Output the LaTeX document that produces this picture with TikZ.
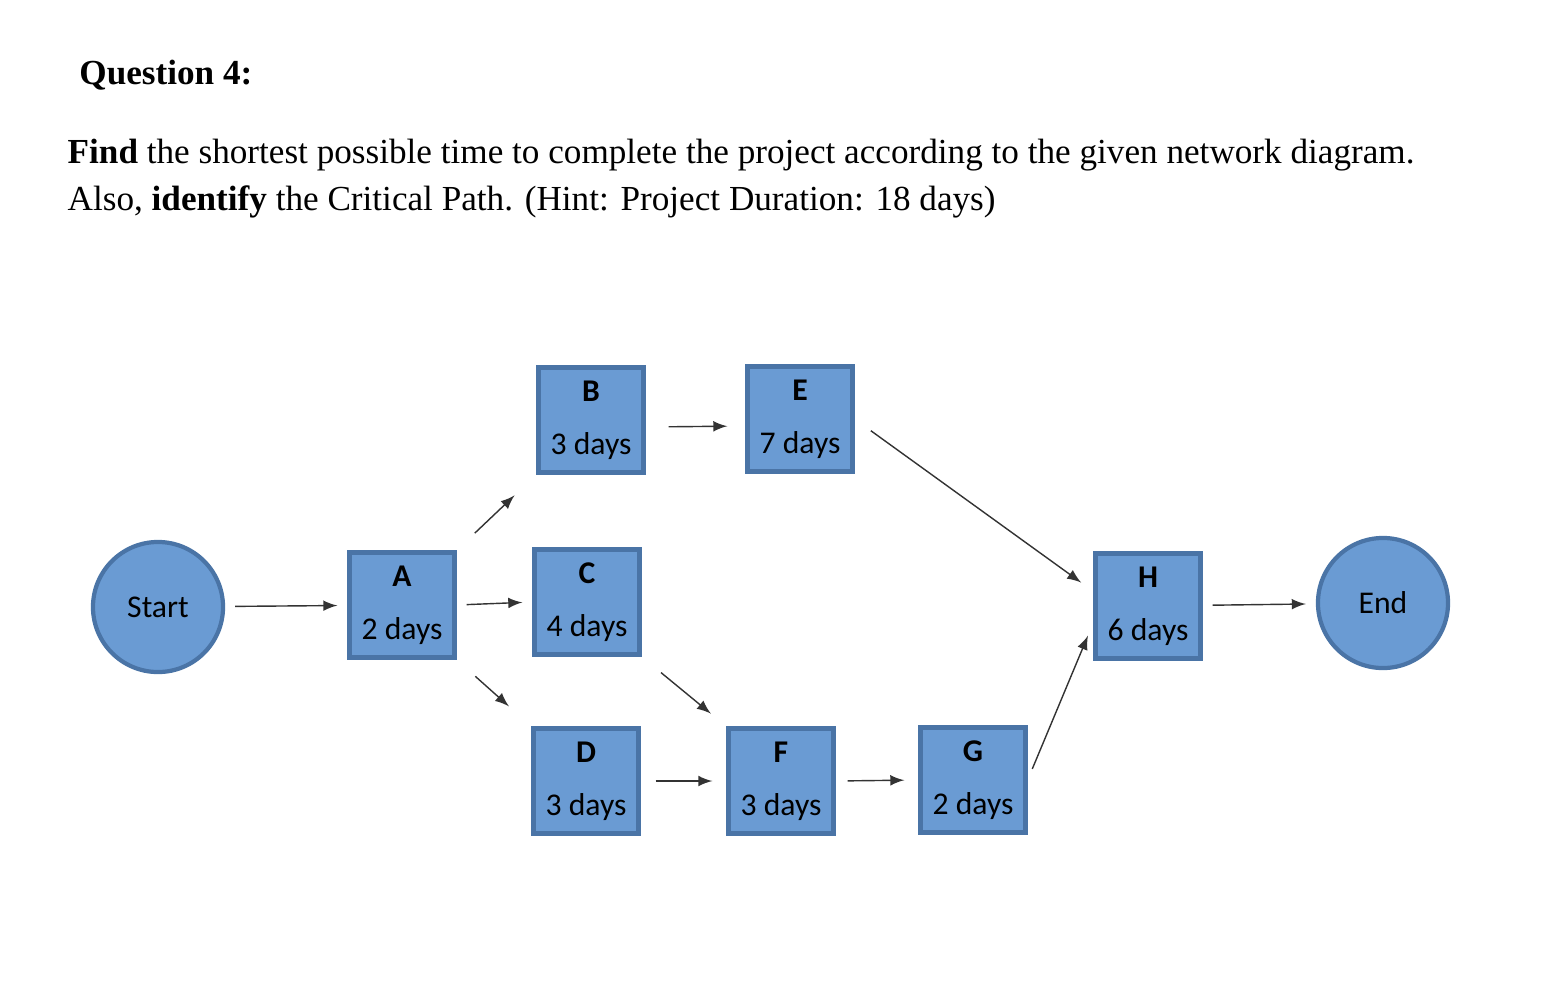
\documentclass[tikz,border=0pt]{standalone}
\usepackage{fontspec}
\setmainfont{Liberation Serif}
\newfontfamily\boxfont{Carlito}
\usetikzlibrary{arrows,positioning}
\definecolor{taskfill}{HTML}{6A9BD3}
\definecolor{taskline}{HTML}{4A74A6}
\begin{document}
\begin{tikzpicture}[>=latex, x=0.01cm, y=-0.01cm]
      \tikzset{
	  task/.style={draw=taskline, line width=1.2pt, fill=taskfill, minimum size=1.05cm, inner sep=0pt, align=center, font=\boxfont\fontsize{9}{15}\selectfont},
	  event/.style={circle, draw=taskline, line width=1.2pt, fill=taskfill, minimum size=1.3cm, font=\boxfont\fontsize{9}{11}\selectfont},
	  flow/.style={->, black!80, thin, shorten <=0.1cm, shorten >=0.1cm}
      }
      \useasboundingbox (0,0) rectangle (1560,1002);

      \node (q) [anchor=base west, font=\bfseries\fontsize{10}{12}\selectfont] at (67,84) {Question 4:};
      \node (t1) [anchor=base west, inner sep=0pt, font=\fontsize{10}{12}\selectfont] at (67,163)
	{\textbf{Find} the shortest possible time to complete the project according to the given network diagram.};
      \node (t2) [anchor=base west, inner sep=0pt, font=\fontsize{10}{12}\selectfont] at (67,210)
	{Also, \textbf{identify} the Critical Path. (Hint: Project Duration: 18 days)};

      % events
      \node (start) [event] at (158,607) {Start};
      \node (end) [event] at (1383,603) {End};

      % tasks
      \node (A) [task] at (402,605) {\textbf{A}\\2 days};
      \node (B) [task] at (591,420) {\textbf{B}\\3 days};
      \node (C) [task] at (587,602) {\textbf{C}\\4 days};
      \node (D) [task] at (586,781) {\textbf{D}\\3 days};
      \node (E) [task] at (800,419) {\textbf{E}\\7 days};
      \node (F) [task] at (781,781) {\textbf{F}\\3 days};
      \node (G) [task] at (973,780) {\textbf{G}\\2 days};
      \node (H) [task] at (1148,606) {\textbf{H}\\6 days};

      % connectors
      \draw [flow] (start) -- (A);
      \draw [flow, shorten <=0.25cm, shorten >=0.3cm] (A.north east) -- (B.south west);
      \draw [flow] (A.east) -- (C.west);
      \draw [flow, shorten <=0.25cm, shorten >=0.3cm] (A.south east) -- (D.north west);
      \draw [flow, shorten <=0.23cm, shorten >=0.18cm] ([yshift=-0.07cm]B.east) -- ([yshift=-0.07cm]E.west);
      \draw [flow, shorten <=0.2cm, shorten >=0.15cm] (E.east) -- (H.165);
      \draw [flow, shorten <=0.25cm, shorten >=0.2cm] (C.south east) -- (F.north west);
      \draw [flow, shorten <=0.15cm, shorten >=0.14cm] (D.east) -- (F.west);
      \draw [flow, shorten <=0.12cm, shorten >=0.14cm] (F.east) -- (G.west);
      \draw [flow, shorten <=0.12cm, shorten >=0.14cm] (G.east) -- (H.197);
      \draw [flow] (H) -- (end);
\end{tikzpicture}
\end{document}
